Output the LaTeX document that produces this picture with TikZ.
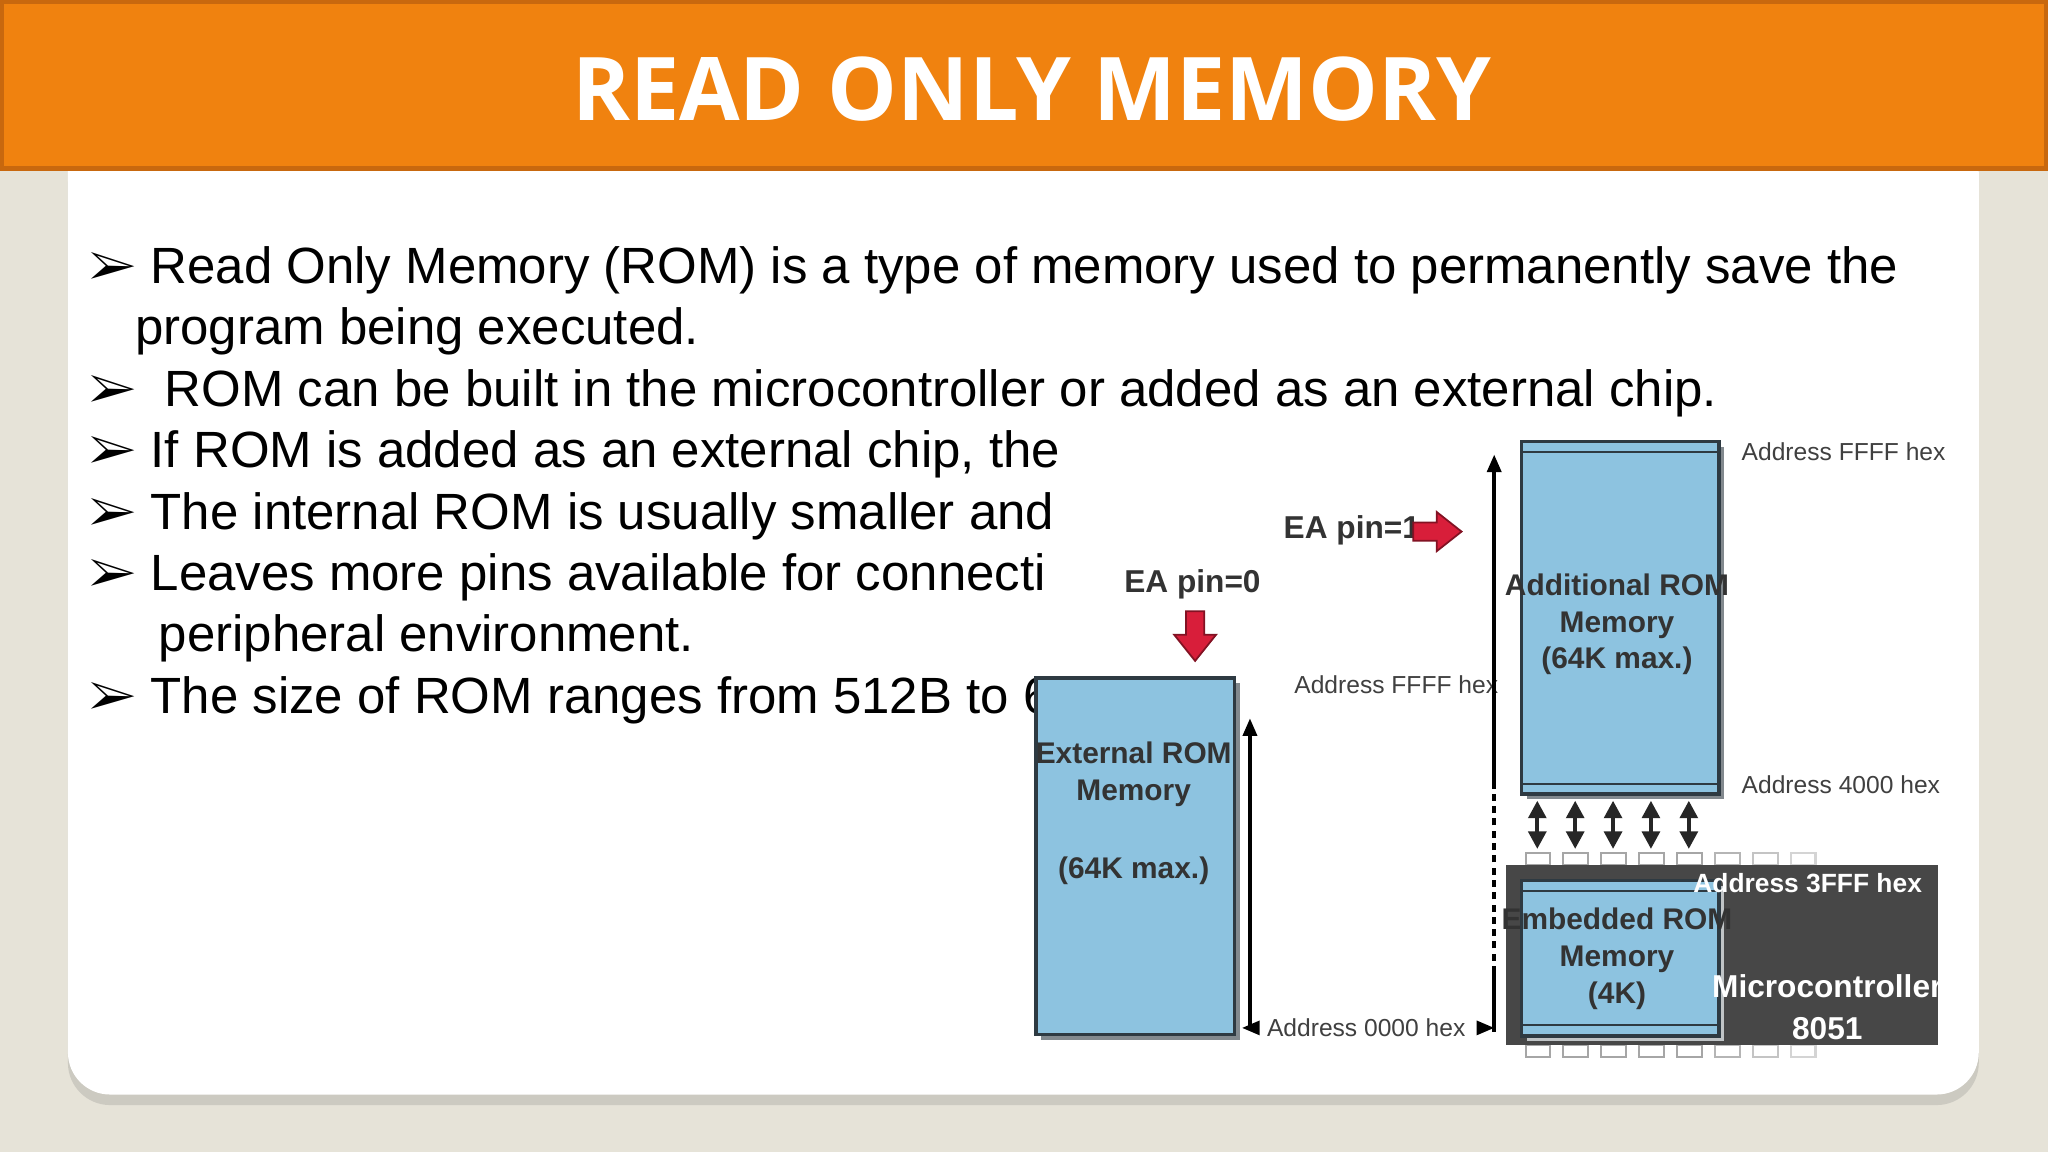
\documentclass[tikz,border=0pt]{standalone}
\usepackage{fontspec}
\setmainfont{Liberation Sans}
\newfontfamily\titlefont{Open Sans}
\usepackage{pifont}
\usetikzlibrary{arrows.meta, positioning, shadows}
\definecolor{slidebg}{HTML}{E6E3D8}
\definecolor{headorange}{HTML}{F0820F}
\definecolor{headedge}{HTML}{C8680E}
\definecolor{romblue}{HTML}{8DC3E0}
\definecolor{romedge}{HTML}{2E3A42}
\definecolor{chipgray}{HTML}{474747}
\definecolor{eared}{HTML}{D81E3A}
\tikzstyle{rom} = [draw=romedge, fill=romblue, line width=1pt]
\tikzstyle{romtext} = [font=\fontsize{8.5}{10.5}\selectfont\bfseries, text=black!80, align=center]
\tikzstyle{addr} = [font=\fontsize{7}{8}\selectfont, text=black!75]
\tikzstyle{bullet} = [font=\fontsize{14.5}{17}\selectfont, anchor=west, inner sep=0pt]
\tikzstyle{bus} = [{Triangle[length=5pt,width=5pt]}-{Triangle[length=5pt,width=5pt]}, line width=1.2pt, black!85]
\tikzstyle{pin} = [draw=gray!70, line width=0.6pt]
\tikzstyle{bigarrow} = [fill=eared, draw=eared!60!black, line width=0.5pt]
\newcommand{\arr}{\ding{226}}
\begin{document}
\begin{tikzpicture}[x=0.01306cm, y=-0.01306cm]
  \useasboundingbox (0,0) rectangle (1568,882);
  % background and card
  \fill[slidebg] (0,0) rectangle (1568,882);
  \fill[white, rounded corners=12pt, drop shadow={shadow xshift=0pt, shadow yshift=-3pt, opacity=0.25}]
    (52,100) rectangle (1515,838);
  % header
  \fill[headorange, draw=headedge, line width=1.5pt] (1,1) rectangle (1567,129);
  \node[font=\titlefont\fontsize{25}{28}\selectfont\bfseries, text=white] (title) at (790,68) {READ ONLY MEMORY};

  % bullets
  \node[bullet] (b1) at (68,207) {\arr\ Read Only Memory (ROM) is a type of memory used to permanently save the};
  \node[bullet] (b1b) at (103,254) {program being executed.};
  \node[bullet] (b2) at (68,301) {\arr\ \ ROM can be built in the microcontroller or added as an external chip.};
  \node[bullet] (b3) at (68,348) {\arr\ If ROM is added as an external chip, the};
  \node[bullet] (b4) at (68,395) {\arr\ The internal ROM is usually smaller and};
  \node[bullet] (b5) at (68,442) {\arr\ Leaves more pins available for connecti};
  \node[bullet] (b5b) at (121,489) {peripheral environment.};
  \node[bullet] (b6) at (68,536) {\arr\ The size of ROM ranges from 512B to 6};

  % external ROM
  \fill[romedge!60] (797,523) rectangle (949,796);
  \draw[rom] (793,519) rectangle (945,792);
  \node[romtext] (ext) at (868,593) {External ROM\\Memory};
  \node[romtext] (extsize) at (868,667) {(64K max.)};
  \coordinate (eb) at (957,786);
  \coordinate (et) at (957,550);
  \draw[-{Triangle[length=5pt,width=4pt]}, line width=1pt] (eb) -- (et);

  % EA pins
  \node[font=\fontsize{9}{10}\selectfont\bfseries, text=black!80] (ea0) at (913,447) {EA pin=0};
  \fill[bigarrow] (908,468) -- (922,468) -- (922,486) -- (931,486) -- (915,506) -- (899,486) -- (908,486) -- cycle;
  \node[font=\fontsize{9}{10}\selectfont\bfseries, text=black!80] (ea1) at (1035,406) {EA pin=1};
  \fill[bigarrow] (1082,400) -- (1100,400) -- (1100,392) -- (1119,407) -- (1100,422) -- (1100,414) -- (1082,414) -- cycle;

  \node[addr] (aext) at (1069,524) {Address FFFF hex};

  % address space line
  \coordinate (lb) at (1144,790);
  \coordinate (lm) at (1144,745);
  \coordinate (ln) at (1144,600);
  \coordinate (lt) at (1144,348);
  \draw[line width=1pt] (lb) -- (lm);
  \draw[line width=1pt, dash pattern=on 2pt off 1.5pt] (lm) -- (ln);
  \draw[-{Triangle[length=5pt,width=4pt]}, line width=1pt] (ln) -- (lt);

  \node[addr] (a0) at (1046,787) {Address 0000 hex};
  \coordinate (a0l) at (951,787);
  \coordinate (a0r) at (1144,787);
  \draw[-{Triangle[length=5pt,width=4pt]}, dotted, line width=0.8pt] (a0.west) -- (a0l);
  \draw[-{Triangle[length=5pt,width=4pt]}, dotted, line width=0.8pt] (a0.east) -- (a0r);

  % additional ROM
  \fill[romedge!60] (1169,342) rectangle (1320,612);
  \draw[rom] (1165,338) rectangle (1316,608);
  \draw[romedge, line width=0.6pt] (1165,346) -- (1316,346) (1165,600) -- (1316,600);
  \node[romtext] (add) at (1238,478) {Additional ROM\\Memory\\(64K max.)};
  \node[addr, anchor=west] (affff) at (1324,346) {Address FFFF hex};
  \node[addr, anchor=west] (a4000) at (1324,601) {Address 4000 hex};

  % microcontroller
  \foreach \i in {0,...,7} {
    \pgfmathsetmacro{\op}{\i<5 ? 70 : 70-12*(\i-4)}
    \draw[pin, draw=gray!\op] (1168+29*\i,653) rectangle (1187+29*\i,662);
    \draw[pin, draw=gray!\op] (1168+29*\i,800) rectangle (1187+29*\i,809);
  }
  \fill[chipgray] (1153,662) rectangle (1484,800);
  \foreach \i in {0,...,4} {
    \coordinate (bt\i) at (1177+29*\i,613);
    \coordinate (bb\i) at (1177+29*\i,650);
    \draw[bus] (bt\i) -- (bb\i);
  }
  \fill[romedge!30] (1169,678) rectangle (1320,797);
  \draw[rom] (1165,674) rectangle (1316,793);
  \draw[romedge, line width=0.6pt] (1165,682) -- (1316,682) (1165,785) -- (1316,785);
  \node[romtext] (emb) at (1238,734) {Embedded ROM\\Memory\\(4K)};
  \node[addr, text=white, font=\fontsize{7.5}{9}\selectfont\bfseries] (a3fff) at (1384,676) {Address 3FFF hex};
  \node[romtext, text=white, font=\fontsize{9}{12}\selectfont\bfseries] (mcu) at (1399,771) {Microcontroller\\8051};
\end{tikzpicture}
\end{document}
